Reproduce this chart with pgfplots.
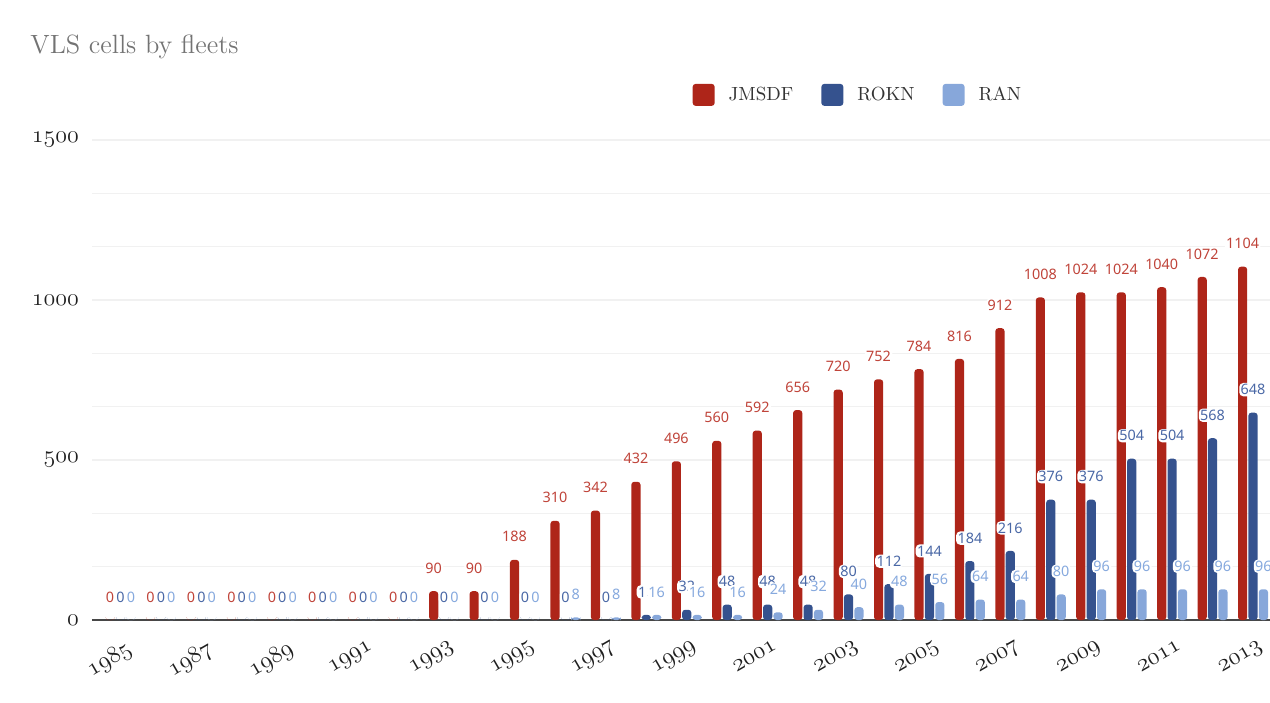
\documentclass[border=0pt]{standalone}
\usepackage{fontspec}
\usepackage{pgfplots}
\usepackage{pgfplotstable}
\pgfplotsset{compat=1.18}
\newfontfamily\lab{Noto Sans}
\definecolor{cJ}{HTML}{AE2519}
\definecolor{cR}{HTML}{35528E}
\definecolor{cA}{HTML}{87A7DA}
\definecolor{lJ}{HTML}{C0443A}
\definecolor{lR}{HTML}{4A68A6}
\definecolor{lA}{HTML}{86A9DE}
\definecolor{gridc}{HTML}{F1F1F1}
\pgfplotstableread{
year J R A
1985 0 0 0
1986 0 0 0
1987 0 0 0
1988 0 0 0
1989 0 0 0
1990 0 0 0
1991 0 0 0
1992 0 0 0
1993 90 0 0
1994 90 0 0
1995 188 0 0
1996 310 0 8
1997 342 0 8
1998 432 16 16
1999 496 32 16
2000 560 48 16
2001 592 48 24
2002 656 48 32
2003 720 80 40
2004 752 112 48
2005 784 144 56
2006 816 184 64
2007 912 216 64
2008 1008 376 80
2009 1024 376 96
2010 1024 504 96
2011 1040 504 96
2012 1072 568 96
2013 1104 648 96
}\data
\newcommand{\os}[1]{$\mathnormal{#1}$}
\begin{document}
\begin{tikzpicture}
\begin{axis}[
  scale only axis, width=589pt, height=240pt,
  ybar=0.6pt, bar width=4.6pt,
  xmin=1984.295, xmax=2013.42,
  ymin=0, ymax=1500,
  axis lines=left, axis line style={-},
  y axis line style={draw=none},
  x axis line style={draw=black!72, line width=1pt},
  ytick={0,500,1000,1500},
  yticklabels={\os{0},\os{500},\os{1000},\os{1500}},
  minor ytick={166.667,333.333,666.667,833.333,1166.667,1333.333},
  ymajorgrids, yminorgrids,
  major grid style={draw=gridc, line width=0.6pt},
  minor grid style={draw=gridc, line width=0.6pt},
  major tick length=0pt, minor tick length=0pt,
  xtick={1985,1987,...,2013},
  xticklabels={\os{1985},\os{1987},\os{1989},\os{1991},\os{1993},\os{1995},\os{1997},\os{1999},\os{2001},\os{2003},\os{2005},\os{2007},\os{2009},\os{2011},\os{2013}},
  tick label style={font=\fontsize{12}{14}\selectfont, text=black!88},
  yticklabel style={xshift=-3pt},
  xticklabel style={xshift=3.5pt, yshift=-5pt, rotate=30, anchor=north east},
  /pgf/number format/assume math mode=true,
  /pgf/number format/1000 sep={},
  every axis plot/.append style={draw=none, rounded corners=1.5pt},
  nodes near coords,
  every node near coord/.append style={font=\lab\fontsize{7.2}{8}\selectfont, anchor=center, yshift=11.5pt, fill=white, inner sep=0.7pt, rounded corners=2pt},
  legend columns=3,
  legend style={at={(0.651,1.094)}, anchor=center, draw=none, fill=none,
    font=\fontsize{9.5}{11}\selectfont, text=black!80,
    /tikz/every odd column/.style={column sep=5pt},
    /tikz/every even column/.style={column sep=12pt}},
  legend image code/.code={\fill[#1, rounded corners=1.5pt] (0pt,-5.5pt) rectangle (11pt,5.5pt);},
]
\addplot[fill=cJ, every node near coord/.append style={text=lJ}] table[x=year,y=J]{\data};
\addplot[fill=cR, every node near coord/.append style={text=lR}] table[x=year,y=R]{\data};
\addplot[fill=cA, every node near coord/.append style={text=lA}] table[x=year,y=A]{\data};
\legend{JMSDF,ROKN,RAN}
\end{axis}
\node[anchor=base west, inner sep=0pt, font=\fontsize{13.2}{15}\selectfont, text=black!55] at ([xshift=-31pt, yshift=43pt]current axis.north west) {VLS cells by fleets};
\pgfresetboundingbox
\path[use as bounding box] ([xshift=-46pt,yshift=-41pt]current axis.south west) rectangle ([yshift=70pt]current axis.north east);
\end{tikzpicture}
\end{document}
